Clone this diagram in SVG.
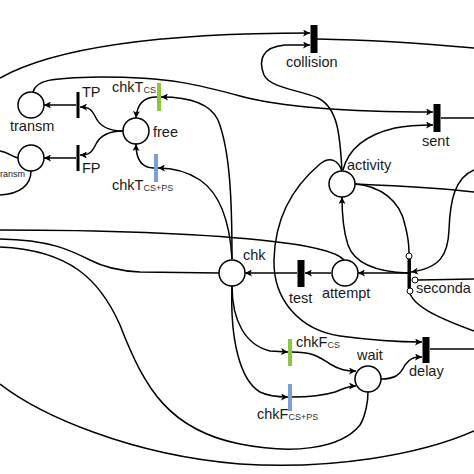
<svg xmlns="http://www.w3.org/2000/svg" width="474" height="474" viewBox="0 0 474 474">
<style>
.c{fill:none;stroke:#000;stroke-width:1.5}
.a{marker-end:url(#ah)}
.p{fill:#fff;stroke:#000;stroke-width:1.5}
.t{fill:#000}
.inh{fill:#fff;stroke:#000;stroke-width:1}
text{font-family:"Liberation Sans",Arial,sans-serif;font-size:14.5px;fill:#1a1a1a}
.sub{font-size:9px;fill:#333}
</style>
<defs>
<marker id="ah" viewBox="0 0 10 10" refX="10" refY="5" markerWidth="9" markerHeight="7" markerUnits="userSpaceOnUse" orient="auto">
<path d="M0,0 L10,5 L0,10 L2.5,5 z" fill="#000"/>
</marker>
</defs>
<rect width="474" height="474" fill="#fff"/>
<g id="connectors">
<path class="c a" d="M0,78 C50,50 150,33 310,33"/>
<path class="c a" d="M33,92 C36,80 50,78 100,77 C170,77 200,85 240,96 C270,104 320,112 433,112"/>
<path class="c a" d="M76,105 L44,105"/>
<path class="c a" d="M76,158 L44,158"/>
<path class="c a" d="M123,131 C108,131 100,126 96,118 C92,110 90,107 80,107"/>
<path class="c a" d="M123,131 C108,131 100,136 96,144 C92,152 90,155 80,155"/>
<path class="c a" d="M157,97 C145,97 137,103 136,118"/>
<path class="c a" d="M154,168 C142,168 136,160 136,144"/>
<path class="c a" d="M232,259 C232,200 230,150 218,120 C210,103 190,97 161,97"/>
<path class="c a" d="M232,259 C230,225 222,195 200,180 C188,172 175,168 158,168"/>
<path class="c" d="M0,151 C8,152 12,157 18,158"/>
<path class="c" d="M31,171 C31,185 20,194 0,195"/>
<path class="c" d="M0,230 C100,230 200,234 260,240 C300,244 335,250 344,260"/>
<path class="c" d="M0,239 C50,240 70,250 90,260 C105,268 120,271 140,272 L219,273"/>
<path class="c" d="M0,247 C70,250 100,280 120,325 C145,390 170,430 240,444 C290,454 340,450 360,425 C366,415 368,400 368,392"/>
<path class="c" d="M0,384 C40,415 130,455 240,464 C330,470 420,455 474,431"/>
<path class="c a" d="M297,273 L245,273"/>
<path class="c a" d="M331,273 L305,273"/>
<path class="c a" d="M408,273 L358,273"/>
<path class="c a" d="M408,273 C380,272 355,265 348,245 C343,230 342,215 342,197"/>
<path class="c" d="M355,184 C380,186 400,200 405,225 C409,240 409,248 409,253"/>
<path class="c" d="M355,184 C400,186 440,188 474,192"/>
<path class="c a" d="M474,170 C455,178 450,200 449,230 C448,255 440,268 411,272"/>
<path class="c" d="M474,279 L418,280"/>
<path class="c" d="M410,294 C415,305 430,315 474,331"/>
<path class="c a" d="M342,171 C338,160 330,156 320,164 C295,185 275,215 274,260 C273,300 300,330 340,336 C370,340 395,342 422,342"/>
<path class="c a" d="M342,171 C340,135 338,108 318,98 C300,90 270,88 264,75 C258,60 262,47 285,45 L310,45"/>
<path class="c a" d="M343,170 C348,150 365,135 395,128 C410,125 420,125 433,125"/>
<path class="c" d="M317,39 C380,40 430,44 474,48"/>
<path class="c" d="M441,118 L474,118"/>
<path class="c" d="M430,349 L474,349"/>
<path class="c a" d="M232,286 C232,320 245,345 270,351 L288,352"/>
<path class="c a" d="M232,286 C230,340 240,380 260,392 C268,396 278,397 288,397"/>
<path class="c a" d="M292,352 C315,352 320,358 330,364 C340,370 346,371 356,371"/>
<path class="c a" d="M292,397 C315,397 325,395 335,392 C345,388 348,386 356,386"/>
<path class="c a" d="M381,379 C395,379 400,375 405,365 C410,358 414,357 422,357"/>
</g>
<g id="transm"><circle class="p" cx="31" cy="105" r="13"/><text x="10" y="131">transm</text></g>
<g id="transm2"><circle class="p" cx="31" cy="158" r="13"/><text x="0" y="177" style="font-size:9px">ransm</text></g>
<g id="free"><circle class="p" cx="136" cy="131" r="13"/><text x="153" y="137">free</text></g>
<g id="activity"><circle class="p" cx="342" cy="184" r="13"/><text x="347" y="170">activity</text></g>
<g id="chk"><circle class="p" cx="232" cy="273" r="13"/><text x="243" y="260">chk</text></g>
<g id="attempt"><circle class="p" cx="345" cy="273" r="13"/><text x="322" y="298">attempt</text></g>
<g id="wait"><circle class="p" cx="368" cy="379" r="13"/><text x="357" y="360">wait</text></g>
<g id="TP"><rect class="t" x="76.5" y="92" width="3" height="26"/><text x="82" y="97">TP</text></g>
<g id="FP"><rect class="t" x="76.5" y="145" width="3" height="26"/><text x="82" y="173">FP</text></g>
<g id="chkT_CS"><rect x="157" y="83" width="4" height="28" fill="#8dc63f"/><text x="112" y="92">chkT<tspan class="sub" dy="1">CS</tspan></text></g>
<g id="chkT_CSPS"><rect x="154" y="154" width="4" height="28" fill="#7b9fd3"/><text x="112" y="190">chkT<tspan class="sub" dy="1">CS+PS</tspan></text></g>
<g id="collision"><rect class="t" x="310.5" y="25" width="7" height="28"/><text x="286" y="67">collision</text></g>
<g id="sent"><rect class="t" x="433.5" y="104" width="7" height="28"/><text x="422" y="146">sent</text></g>
<g id="test"><rect class="t" x="297.5" y="260" width="7" height="27"/><text x="289" y="303">test</text></g>
<g id="secondary"><rect class="t" x="407.5" y="259" width="3.5" height="29"/><circle class="inh" cx="409" cy="256" r="3"/><circle class="inh" cx="410" cy="291" r="3"/><circle class="inh" cx="415" cy="280" r="3"/><text x="416" y="293">seconda</text></g>
<g id="chkF_CS"><rect x="288" y="339" width="4" height="27" fill="#8dc63f"/><text x="296" y="347">chkF<tspan class="sub" dy="1">CS</tspan></text></g>
<g id="chkF_CSPS"><rect x="288" y="384" width="4" height="27" fill="#7b9fd3"/><text x="257" y="419">chkF<tspan class="sub" dy="1">CS+PS</tspan></text></g>
<g id="delay"><rect class="t" x="422.5" y="337" width="7" height="26"/><text x="409" y="376">delay</text></g>
</svg>
